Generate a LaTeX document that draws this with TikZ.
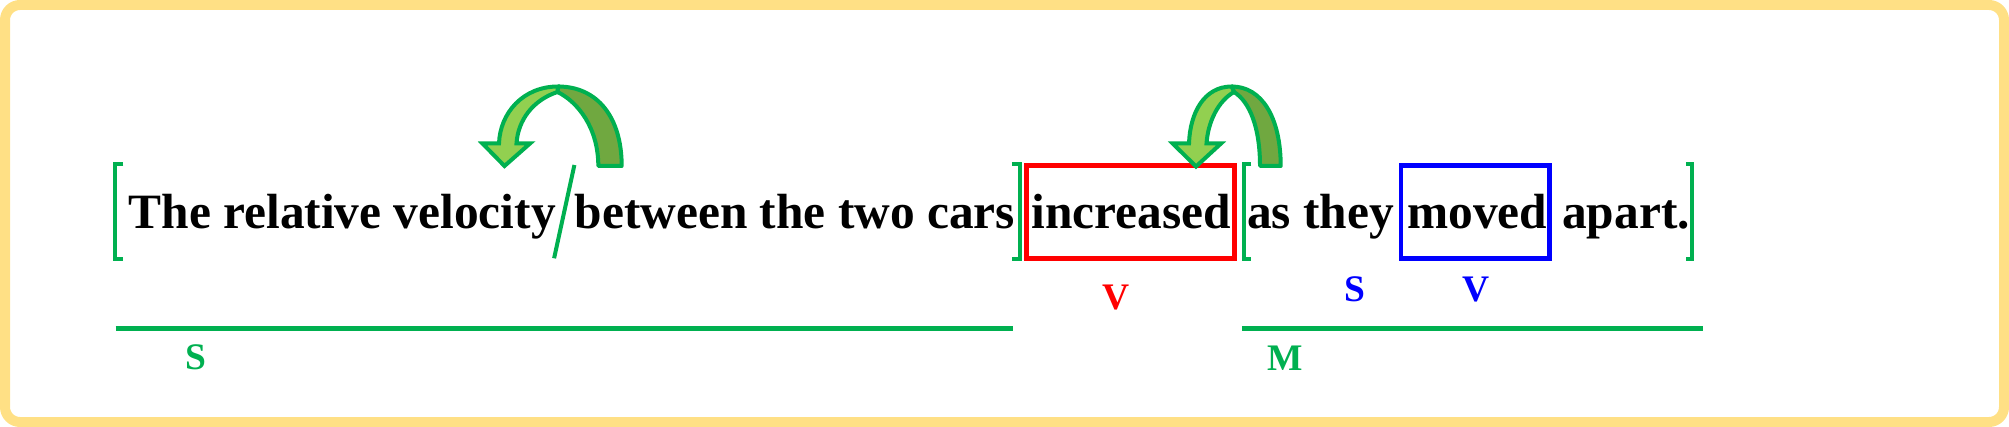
\documentclass[tikz,border=0pt]{standalone}
\usepackage{fontspec}
\setmainfont{Liberation Serif}
\definecolor{frameY}{RGB}{255,224,133}
\definecolor{grn}{RGB}{0,176,80}
\definecolor{lgrn}{RGB}{146,208,80}
\definecolor{dgrn}{RGB}{112,168,64}
\definecolor{rd}{RGB}{255,0,0}
\definecolor{bl}{RGB}{0,0,255}
\begin{document}
\begin{tikzpicture}[x=1pt,y=-1pt,
  mainword/.style={font=\fontsize{49.4}{59}\selectfont\bfseries, inner sep=0pt, anchor=base west},
  lab/.style={font=\fontsize{37.5}{45}\selectfont\bfseries, inner sep=0pt, anchor=base},
  brk/.style={draw=grn, line width=4pt},
  uline/.style={draw=grn, line width=5pt},
  wbox/.style={line width=4.5pt},
  darkband/.style={fill=dgrn, draw=grn, line width=4pt, line join=round},
  lightband/.style={fill=lgrn, draw=grn, line width=4pt, line join=miter}]
\useasboundingbox (0,0) rectangle (2009,427);
\draw[draw=frameY, line width=10pt, rounded corners=15pt] (5,5) rectangle (2004,422);

% sentence
\node[mainword] (t1) at (128.5,229) {The relative velocity};
\node[mainword] (t2) at (574.5,229) {between the two cars};
\node[mainword] (t3) at (1031.5,229) {increased};
\node[mainword] (t4) at (1247,229) {as they};
\node[mainword] (t5) at (1407,229) {moved};
\node[mainword] (t6) at (1562,229) {apart.};

% brackets
\draw[brk] (123.3,164.3) -- (115.3,164.3) -- (115.3,258.8) -- (123.3,258.8);
\draw[brk] (1011.8,164.3) -- (1019.9,164.3) -- (1019.9,258.8) -- (1011.8,258.8);
\draw[brk] (1251.4,164.3) -- (1244.1,164.3) -- (1244.1,258.8) -- (1251.4,258.8);
\draw[brk] (1685.8,164.3) -- (1691.9,164.3) -- (1691.9,258.8) -- (1685.8,258.8);

% slash
\draw[brk] (574.4,165) -- (554.1,258.3);

% boxes
\draw[wbox, draw=rd] (1026.3,165.3) rectangle (1234.7,258.7);
\draw[wbox, draw=bl] (1401,165.5) rectangle (1549.5,258.5);

% underlines
\draw[uline] (115.7,328.5) -- (1013,328.5);
\draw[uline] (1241.8,328.5) -- (1703,328.5);

% labels
\node[lab, text=grn] (ls1) at (196.4,369.5) {S};
\node[lab, text=rd] (lv1) at (1115.8,310) {V};
\node[lab, text=bl] (ls2) at (1354.7,301.5) {S};
\node[lab, text=bl] (lv2) at (1476,301.5) {V};
\node[lab, text=grn] (lm) at (1285,370) {M};

% curved arrow 1
\draw[darkband] (621.7,166) .. controls (621.7,118) and (598,86.5) .. (558,86.5)
  -- (557.5,92) .. controls (578,102) and (598.3,128) .. (598.3,166) -- cycle;
\draw[lightband] (558,86.5) .. controls (523,86.5) and (500,113) .. (499,143.5)
  -- (482.5,143.5) -- (504.5,166) -- (530,143.5) -- (516.5,143.5)
  .. controls (518,120) and (533,100) .. (557.5,92) -- cycle;

% curved arrow 2
\draw[darkband] (1280.7,166) .. controls (1280.7,118) and (1262,86.5) .. (1231.7,86.5)
  -- (1234,92) .. controls (1250,102) and (1260,128) .. (1260,166) -- cycle;
\draw[lightband] (1231.7,86.5) .. controls (1204,86.5) and (1190,113) .. (1189,143.5)
  -- (1172.7,143.5) -- (1196,166.5) -- (1221,143.5) -- (1206.5,143.5)
  .. controls (1208,122) and (1218,101) .. (1234,92) -- cycle;
\end{tikzpicture}
\end{document}
